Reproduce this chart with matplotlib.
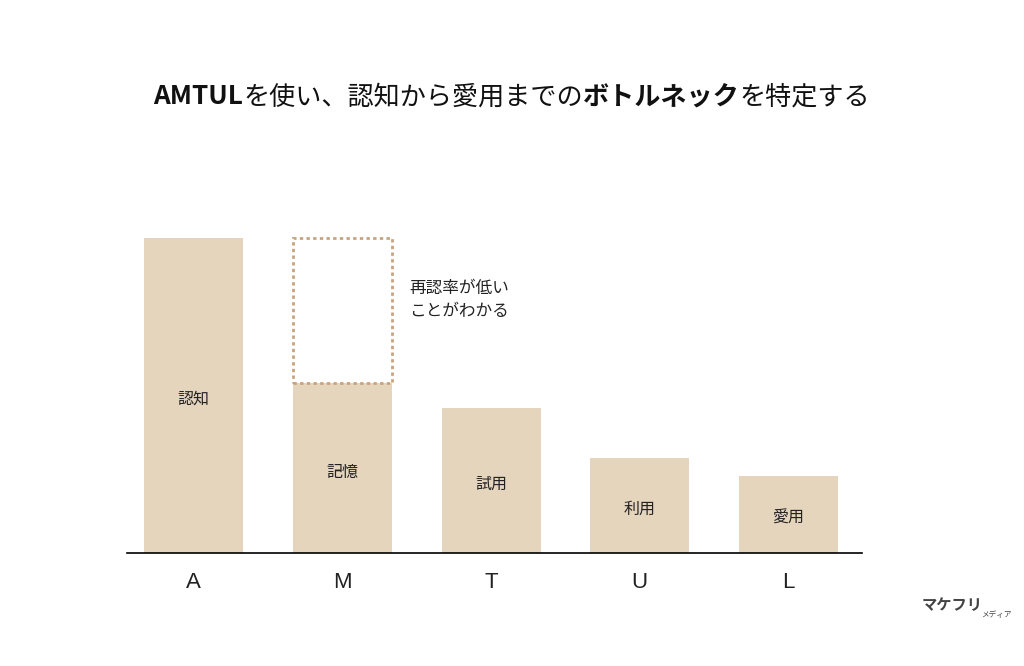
import matplotlib
matplotlib.use("Agg")
import matplotlib.pyplot as plt
from matplotlib.patches import Rectangle

plt.rcParams['font.family'] = ['Noto Sans CJK JP', 'DejaVu Sans']

categories = ["A", "M", "T", "U", "L"]
values = [315, 170, 145, 95, 77]
bar_labels = ["認知", "記憶", "試用", "利用", "愛用"]
potential_M = 315
note = "再認率が低い\nことがわかる"

W, H = 1024, 666
fig = plt.figure(figsize=(W/100, H/100), dpi=100)
fig.patch.set_facecolor("white")
ax = fig.add_axes([127/W, (H-553)/H, (862-127)/W, (553-138)/H])
sp = 148.75
ax.set_xlim(-66.5/sp, (862-193.5)/sp)
ax.set_ylim(0, 415)
color = "#e6d5bd"
xs = list(range(len(categories)))
bw = 99/sp
ax.bar(xs, values, width=bw, color=color, zorder=2)
for x, v, lab in zip(xs, values, bar_labels):
    ax.text(x, v/2 - 4, lab, ha="center", va="center", fontsize=11.5, color="#222222")
ax.add_patch(Rectangle((1-bw/2, values[1]), bw, potential_M-values[1], fill=False,
                       edgecolor="#c9a37e", linestyle=(0, (1.2, 1.2)), linewidth=2, zorder=3))
ax.text(1+bw/2+0.12, 253, note, ha="left", va="center", fontsize=12, color="#222222", linespacing=1.5)

for s in ["top", "right", "left"]:
    ax.spines[s].set_visible(False)
ax.spines["bottom"].set_linewidth(1.2)
ax.set_yticks([])
ax.set_xticks(xs)
ax.set_xticklabels(categories, fontsize=16, color="#222222", family=["Liberation Sans"])
ax.tick_params(axis="x", length=0, pad=14)

pieces = [("AMTUL", "bold"), ("を使い、認知から愛用までの", "normal"), ("ボトルネック", "bold"), ("を特定する", "normal")]
r = fig.canvas.get_renderer()
texts = []
for s, wgt in pieces:
    t = fig.text(0, 1-97/H, s, fontsize=18.8, fontweight=wgt, va="center", ha="left", color="#111111")
    texts.append(t)
widths = [t.get_window_extent(renderer=r).width for t in texts]
x0 = (W - sum(widths)) / 2
for t, w in zip(texts, widths):
    t.set_x(x0 / W)
    x0 += w

fig.text(922/W, 1-605/H, "マケフリ", fontsize=11, fontweight="bold", color="#444444", va="center")
fig.text(981/W, 1-615/H, "メディア", fontsize=5.5, color="#444444", va="center")

fig.savefig("out.png", dpi=100)
